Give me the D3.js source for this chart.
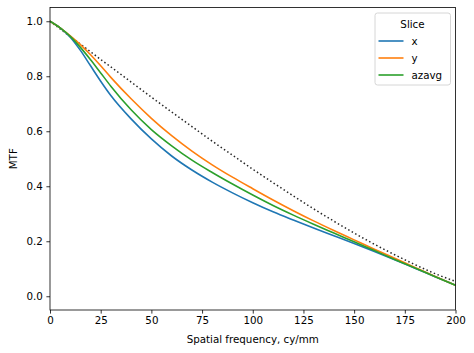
<!DOCTYPE html>
<html>
<head>
<meta charset="utf-8">
<script src="https://cdn.jsdelivr.net/npm/d3@7/dist/d3.min.js"></script>
<style>
  html, body { margin: 0; padding: 0; background: #fff; }
  svg { display: block; font-family: "DejaVu Sans", sans-serif; }
</style>
</head>
<body>
<svg id="chart" width="474" height="353"></svg>
<script>
// Spatial frequency samples (cy/mm)
const freq = [0, 5, 10, 15, 20, 25, 30, 40, 50, 60, 70, 80, 90, 100, 110, 120, 130, 140, 150, 160, 170, 180, 190, 200];
// MTF
const mtfX     = [1.000, 0.976, 0.942, 0.894, 0.838, 0.782, 0.730, 0.645, 0.572, 0.510, 0.459, 0.415, 0.376, 0.340, 0.307, 0.277, 0.248, 0.220, 0.192, 0.163, 0.133, 0.102, 0.071, 0.040];
const mtfY     = [1.000, 0.976, 0.947, 0.915, 0.878, 0.838, 0.796, 0.718, 0.647, 0.584, 0.528, 0.478, 0.433, 0.391, 0.350, 0.311, 0.274, 0.239, 0.205, 0.171, 0.138, 0.105, 0.072, 0.040];
const mtfAzavg = [1.000, 0.976, 0.945, 0.905, 0.860, 0.812, 0.764, 0.678, 0.606, 0.547, 0.495, 0.450, 0.408, 0.368, 0.330, 0.295, 0.262, 0.230, 0.198, 0.166, 0.134, 0.103, 0.071, 0.040];
const mtfDiff  = [1.000, 0.972, 0.944, 0.917, 0.889, 0.861, 0.834, 0.779, 0.724, 0.670, 0.617, 0.564, 0.513, 0.462, 0.413, 0.365, 0.318, 0.273, 0.230, 0.189, 0.151, 0.115, 0.082, 0.054];

const seriesNames = ["x", "y", "azavg"];
const xTicks = [0, 25, 50, 75, 100, 125, 150, 175, 200];
const yTicks = [0.0, 0.2, 0.4, 0.6, 0.8, 1.0];

const colors = { x: "#1f77b4", y: "#ff7f0e", azavg: "#2ca02c" };
const seriesData = { x: mtfX, y: mtfY, azavg: mtfAzavg };

const svg = d3.select("#chart");
const L = 50, R = 455.5, T = 7.5, B = 310;

const xs = d3.scaleLinear().domain([0, 200]).range([L, R]);
const ys = d3.scaleLinear().domain([-0.05, 1.05]).range([B, T]);

const line = d3.line().x(d => xs(d[0])).y(d => ys(d[1])).curve(d3.curveMonotoneX);

const plot = svg.append("g");
plot.append("defs").append("clipPath").attr("id", "clip")
  .append("rect").attr("x", L).attr("y", T).attr("width", R - L).attr("height", B - T);

const g = plot.append("g").attr("clip-path", "url(#clip)");

// diffraction-limited reference (dotted)
g.append("path")
  .datum(freq.map((f, i) => [f, mtfDiff[i]]))
  .attr("d", line)
  .attr("fill", "none")
  .attr("stroke", "#262626")
  .attr("stroke-width", 1.5)
  .attr("stroke-dasharray", "1.5,2.5");

seriesNames.forEach(name => {
  g.append("path")
    .datum(freq.map((f, i) => [f, seriesData[name][i]]))
    .attr("d", line)
    .attr("fill", "none")
    .attr("stroke", colors[name])
    .attr("stroke-width", 1.6)
    .attr("stroke-linejoin", "round")
    .attr("stroke-linecap", "butt");
});

// axes
const fontSize = "10.3px";
const xAxis = d3.axisBottom(xs).tickValues(xTicks).tickFormat(d3.format("d")).tickSizeInner(3.6).tickSizeOuter(0).tickPadding(3.5);
const yAxis = d3.axisLeft(ys).tickValues(yTicks).tickFormat(d3.format(".1f")).tickSizeInner(3.6).tickSizeOuter(0).tickPadding(3.5);

const gx = svg.append("g").attr("transform", `translate(0,${B})`).call(xAxis);
const gy = svg.append("g").attr("transform", `translate(${L},0)`).call(yAxis);
[gx, gy].forEach(a => {
  a.select(".domain").remove();
  a.selectAll(".tick line").attr("stroke", "#000").attr("stroke-width", 0.8);
  a.selectAll(".tick text").attr("fill", "#000").style("font-size", fontSize).style("font-family", "DejaVu Sans");
});

// spines
svg.append("rect").attr("x", L).attr("y", T).attr("width", R - L).attr("height", B - T)
  .attr("fill", "none").attr("stroke", "#000").attr("stroke-width", 0.8);

// labels
svg.append("text").attr("x", (L + R) / 2).attr("y", 343).attr("text-anchor", "middle")
  .style("font-size", fontSize).text("Spatial frequency, cy/mm");
svg.append("text").attr("transform", `translate(17,${(T + B) / 2}) rotate(-90)`).attr("text-anchor", "middle")
  .style("font-size", fontSize).text("MTF");

// legend
const lg = svg.append("g");
lg.append("rect").attr("x", 375).attr("y", 13).attr("width", 75.5).attr("height", 72)
  .attr("rx", 2.5).attr("fill", "#fff").attr("fill-opacity", 0.8)
  .attr("stroke", "#cccccc").attr("stroke-width", 0.8);
lg.append("text").attr("x", 412.5).attr("y", 28).attr("text-anchor", "middle")
  .style("font-size", fontSize).text("Slice");
seriesNames.forEach((name, i) => {
  const yy = 41 + i * 17;
  lg.append("line").attr("x1", 378.5).attr("x2", 403.5).attr("y1", yy).attr("y2", yy)
    .attr("stroke", colors[name]).attr("stroke-width", 1.6);
  lg.append("text").attr("x", 411.5).attr("y", yy + 3.7)
    .style("font-size", fontSize).text(name);
});
</script>
</body>
</html>
